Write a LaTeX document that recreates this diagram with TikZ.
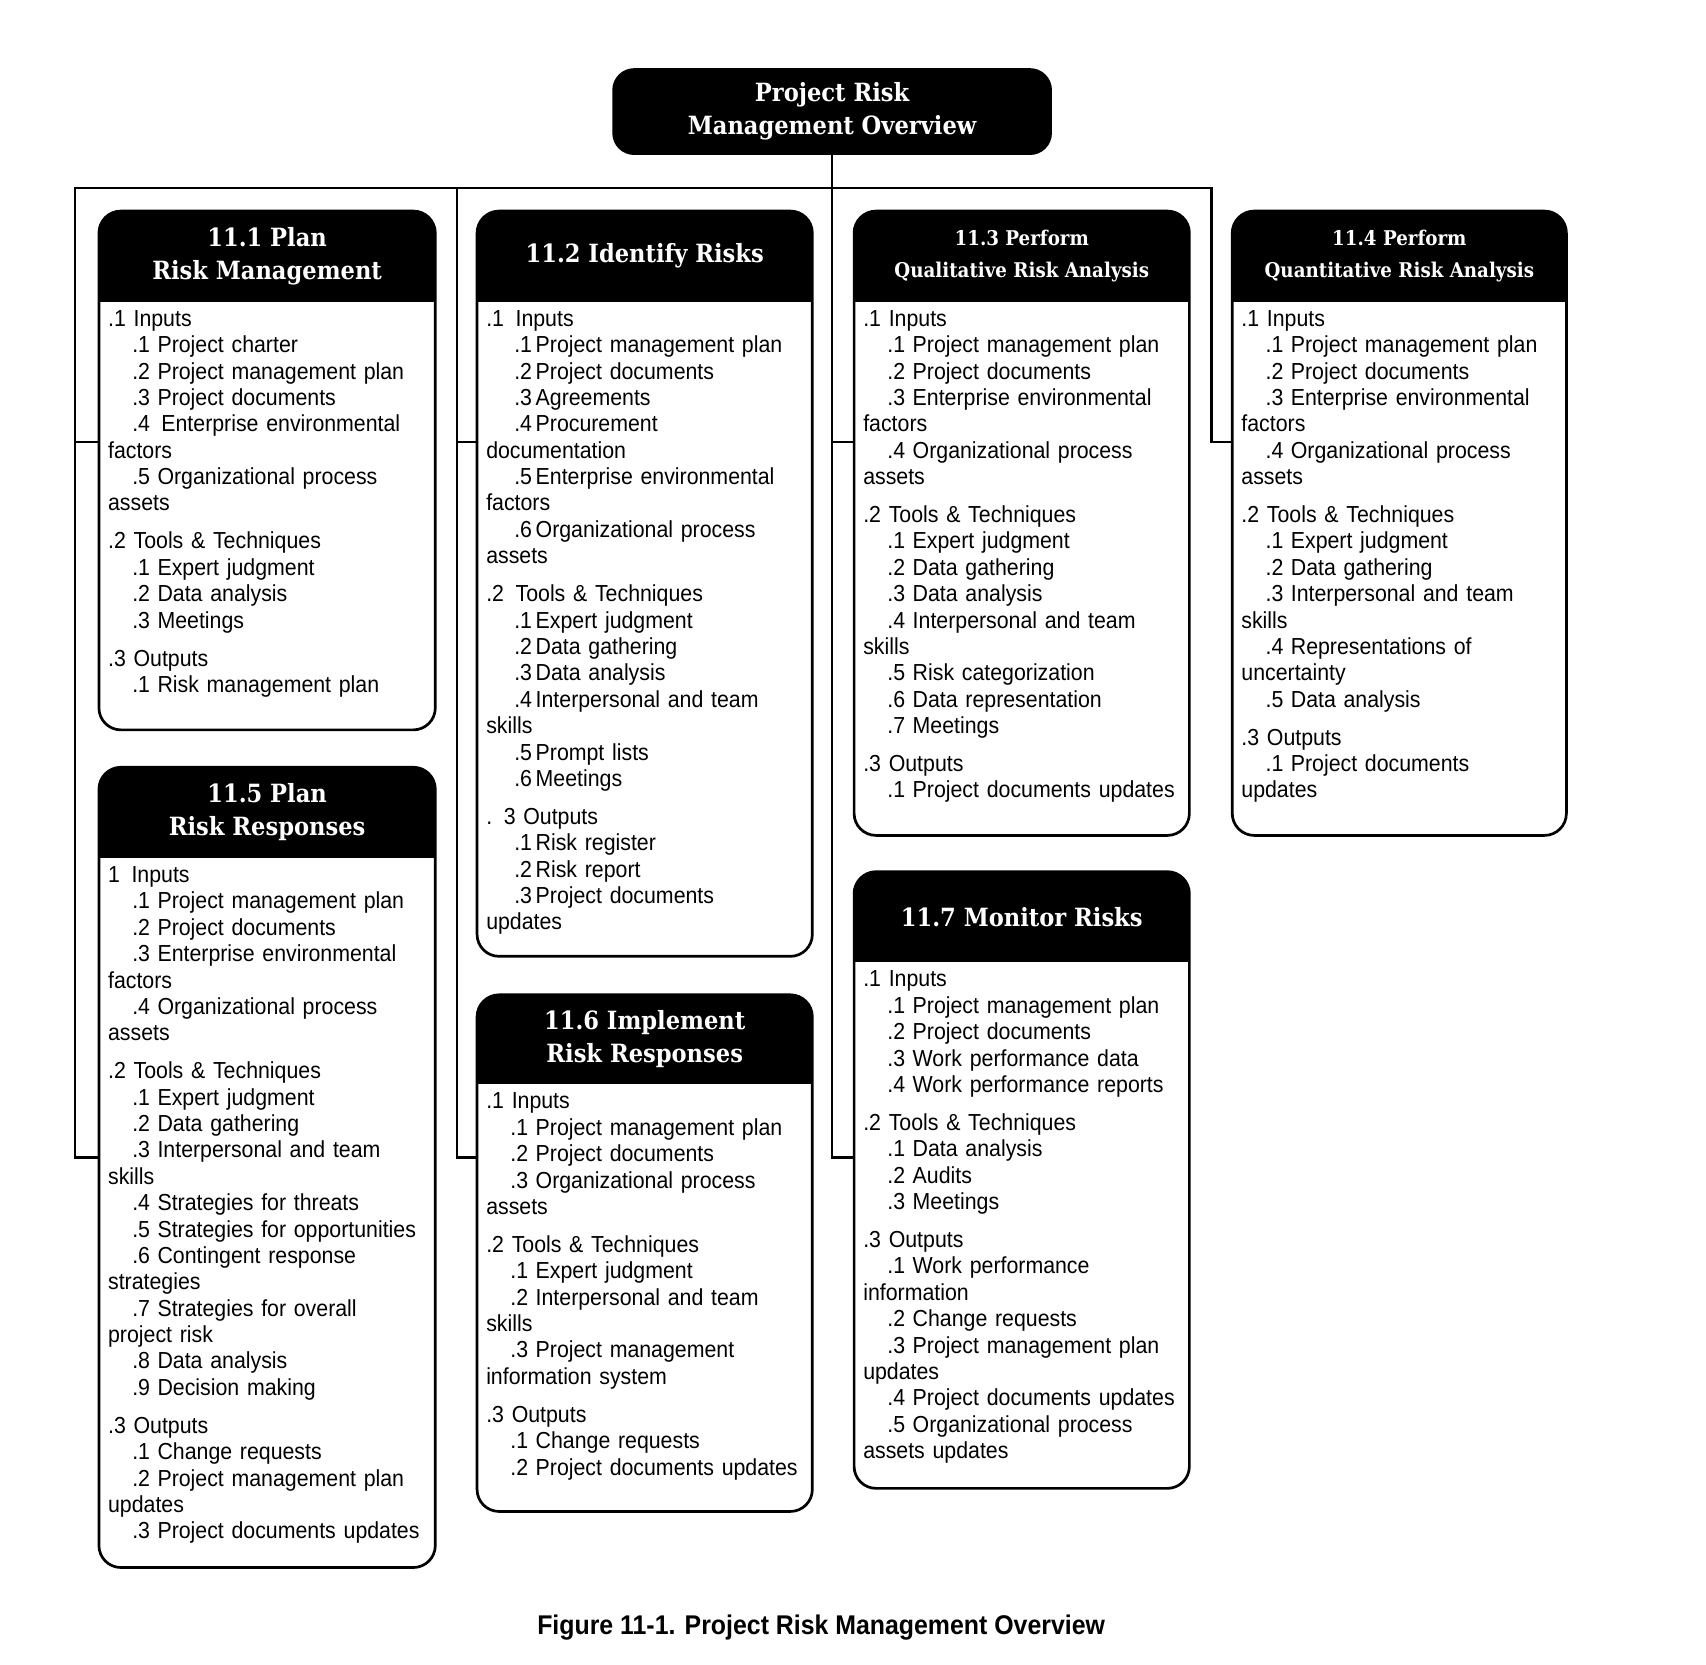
\documentclass[tikz,border=0pt]{standalone}
\usepackage{fontspec}
\setmainfont{Liberation Sans}[FakeStretch=0.92]
\newfontfamily\headfont{DejaVu Serif}[FakeStretch=0.9]
\usetikzlibrary{positioning}

\newcommand\grp[1]{\par\addvspace{6pt}\noindent #1}
\newcommand\itm[2]{\par\noindent\hangindent=0.9cm\hspace*{0.44cm}\makebox[0.46cm][l]{#1}#2}

\tikzset{
  boxframe/.style={line width=1.4pt, rounded corners=0.4cm},
  link/.style={line width=1.2pt},
  headtext/.style={text=white, align=center, font=\headfont\bfseries\fontsize{13}{17}\selectfont},
  smallhead/.style={headtext, font=\headfont\bfseries\fontsize{10.5}{17}\selectfont},
  bodytext/.style={anchor=north west, inner sep=0pt, text width=5.9cm, align=left,
    font=\fontsize{12}{13.66}\selectfont},
}

% name, x0, y0, x1, y1, header bottom, title style, title, body
\newcommand\procbox[9]{%
  \begin{scope}
    \clip (#2,#3) rectangle (#4,#6);
    \fill[rounded corners=0.4cm] (#2,#3) rectangle (#4,#5);
  \end{scope}
  \draw[boxframe] (#2,#3) rectangle (#4,#5);
  \node[#7] (#1-title) at ({(#2+#4)/2},{(#3+#6)/2}) {#8};
  \node[bodytext] (#1-body) at (#2+8,#6+8) {#9};
}

\begin{document}
\begin{tikzpicture}[x=0.02cm, y=-0.02cm]
\useasboundingbox (0,0) rectangle (1552,1514);

% overview
\fill[rounded corners=0.4cm] (557,62) rectangle (957,141);
\node[headtext] (top) at (757,101.5) {Project Risk\\Management Overview};
\coordinate (topS) at (757,141);

% processes
\procbox{p1}{90}{192}{396}{664}{274}{headtext}{11.1 Plan\\Risk Management}{%
\noindent .1 Inputs
\itm{.1}{Project charter}
\itm{.2}{Project management plan}
\itm{.3}{Project documents}
\itm{.4}{\,Enterprise environmental\\factors}
\itm{.5}{Organizational process\\assets}
\grp{.2 Tools \& Techniques}
\itm{.1}{Expert judgment}
\itm{.2}{Data analysis}
\itm{.3}{Meetings}
\grp{.3 Outputs}
\itm{.1}{Risk management plan}}

\procbox{p5}{90}{698}{396}{1426}{780}{headtext}{11.5 Plan\\Risk Responses}{%
\noindent 1\enspace Inputs
\itm{.1}{Project management plan}
\itm{.2}{Project documents}
\itm{.3}{Enterprise environmental\\factors}
\itm{.4}{Organizational process\\assets}
\grp{.2 Tools \& Techniques}
\itm{.1}{Expert judgment}
\itm{.2}{Data gathering}
\itm{.3}{Interpersonal and team\\skills}
\itm{.4}{Strategies for threats}
\itm{.5}{Strategies for opportunities}
\itm{.6}{Contingent response\\strategies}
\itm{.7}{Strategies for overall\\project risk}
\itm{.8}{Data analysis}
\itm{.9}{Decision making}
\grp{.3 Outputs}
\itm{.1}{Change requests}
\itm{.2}{Project management plan\\updates}
\itm{.3}{Project documents updates}}

\procbox{p2}{434}{192}{739}{870}{274}{headtext}{11.2 Identify Risks}{%
\noindent .1\enspace Inputs
\itm{\,.1}{Project management plan}
\itm{\,.2}{Project documents}
\itm{\,.3}{Agreements}
\itm{\,.4}{Procurement\\documentation}
\itm{\,.5}{Enterprise environmental\\factors}
\itm{\,.6}{Organizational process\\assets}
\grp{.2\enspace Tools \& Techniques}
\itm{\,.1}{Expert judgment}
\itm{\,.2}{Data gathering}
\itm{\,.3}{Data analysis}
\itm{\,.4}{Interpersonal and team\\skills}
\itm{\,.5}{Prompt lists}
\itm{\,.6}{Meetings}
\grp{. 3 Outputs}
\itm{\,.1}{Risk register}
\itm{\,.2}{Risk report}
\itm{\,.3}{Project documents\\updates}}

\procbox{p6}{434}{905}{739}{1375}{986}{headtext}{11.6 Implement\\Risk Responses}{%
\noindent .1 Inputs
\itm{.1}{Project management plan}
\itm{.2}{Project documents}
\itm{.3}{Organizational process\\assets}
\grp{.2 Tools \& Techniques}
\itm{.1}{Expert judgment}
\itm{.2}{Interpersonal and team\\skills}
\itm{.3}{Project management\\information system}
\grp{.3 Outputs}
\itm{.1}{Change requests}
\itm{.2}{Project documents updates}}

\procbox{p3}{777}{192}{1082}{760}{274}{smallhead}{11.3 Perform\\Qualitative Risk Analysis}{%
\noindent .1 Inputs
\itm{.1}{Project management plan}
\itm{.2}{Project documents}
\itm{.3}{Enterprise environmental\\factors}
\itm{.4}{Organizational process\\assets}
\grp{.2 Tools \& Techniques}
\itm{.1}{Expert judgment}
\itm{.2}{Data gathering}
\itm{.3}{Data analysis}
\itm{.4}{Interpersonal and team\\skills}
\itm{.5}{Risk categorization}
\itm{.6}{Data representation}
\itm{.7}{Meetings}
\grp{.3 Outputs}
\itm{.1}{Project documents updates}}

\procbox{p7}{777}{793}{1082}{1354}{875}{headtext}{11.7 Monitor Risks}{%
\noindent .1 Inputs
\itm{.1}{Project management plan}
\itm{.2}{Project documents}
\itm{.3}{Work performance data}
\itm{.4}{Work performance reports}
\grp{.2 Tools \& Techniques}
\itm{.1}{Data analysis}
\itm{.2}{Audits}
\itm{.3}{Meetings}
\grp{.3 Outputs}
\itm{.1}{Work performance\\information}
\itm{.2}{Change requests}
\itm{.3}{Project management plan\\updates}
\itm{.4}{Project documents updates}
\itm{.5}{Organizational process\\assets updates}}

\procbox{p4}{1121}{192}{1425}{760}{274}{smallhead}{11.4 Perform\\Quantitative Risk Analysis}{%
\noindent .1 Inputs
\itm{.1}{Project management plan}
\itm{.2}{Project documents}
\itm{.3}{Enterprise environmental\\factors}
\itm{.4}{Organizational process\\assets}
\grp{.2 Tools \& Techniques}
\itm{.1}{Expert judgment}
\itm{.2}{Data gathering}
\itm{.3}{Interpersonal and team\\skills}
\itm{.4}{Representations of\\uncertainty}
\itm{.5}{Data analysis}
\grp{.3 Outputs}
\itm{.1}{Project documents\\updates}}

% tree
\coordinate (p1w) at (90,402);   \coordinate (p5w) at (90,1053);
\coordinate (p2w) at (434,402);  \coordinate (p6w) at (434,1053);
\coordinate (p3w) at (777,402);  \coordinate (p7w) at (777,1053);
\coordinate (p4w) at (1121,402);
\coordinate (busL) at (68,171);  \coordinate (busR) at (1102,171);

\draw[link] (topS) -- (757,171);
\draw[link] (p1w) -| (68,171) -- (busR) |- (p4w);
\draw[link] (p5w) -| (busL);
\draw[link] (p2w) -| (416,171);
\draw[link] (p6w) -| (416,402);
\draw[link] (p3w) -| (757,171);
\draw[link] (p7w) -| (757,402);

\node[font=\bfseries\fontsize{14}{16}\selectfont] (caption) at (747,1481) {Figure 11-1. Project Risk Management Overview};
\end{tikzpicture}
\end{document}
